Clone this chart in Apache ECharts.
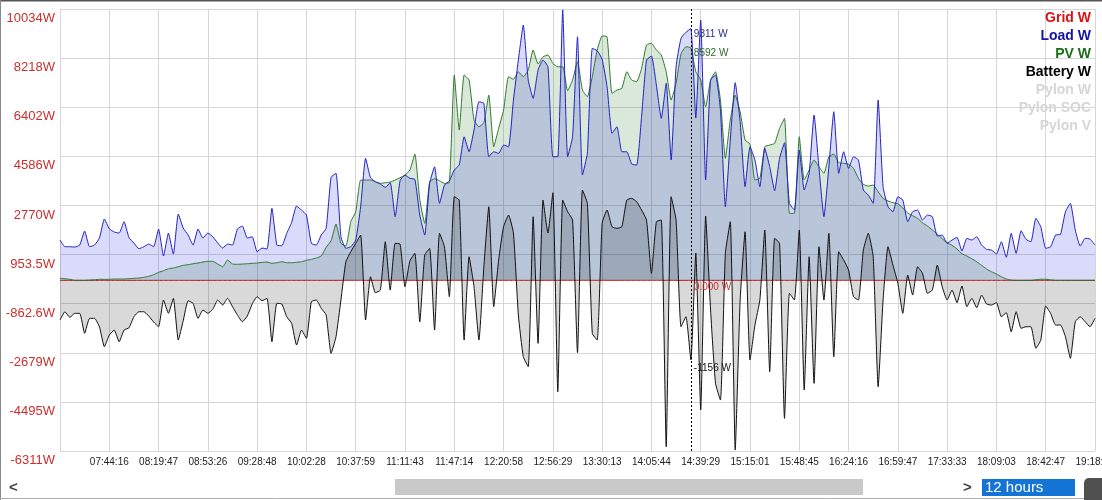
<!DOCTYPE html>
<html>
<head>
<meta charset="utf-8">
<script src="https://cdn.jsdelivr.net/npm/echarts@6.0.0/dist/echarts.min.js"></script>
<style>html,body{margin:0;padding:0;background:#fff;overflow:hidden}#chart{width:1102px;height:500px}</style>
</head>
<body>
<div id="chart"></div>
<script>
// ---- data ----
const xTickLabels = ['07:44:16','08:19:47','08:53:26','09:28:48','10:02:28','10:37:59','11:11:43','11:47:14','12:20:58','12:56:29','13:30:13','14:05:44','14:39:29','15:15:01','15:48:45','16:24:16','16:59:47','17:33:33','18:09:03','18:42:47','19:18:18'];
const yTickLabels = ['-6311W','-4495W','-2679W','-862.6W','953.5W','2770W','4586W','6402W','8218W','10034W'];
const yMin = -6311;
const yMax = 10034;
const samplesPerTick = 10;

const gridW = [0,0,0,0,0,0,0,0,0,0,0,0,0,0,0,0,0,0,0,0,0,0,0,0,0,0,0,0,0,0,0,0,0,0,0,0,0,0,0,0,0,0,0,0,0,0,0,0,0,0,0,0,0,0,0,0,0,0,0,0,0,0,0,0,0,0,0,0,0,0,0,0,0,0,0,0,0,0,0,0,0,0,0,0,0,0,0,0,0,0,0,0,0,0,0,0,0,0,0,0,0,0,0,0,0,0,0,0,0,0,0,0,0,0,0,0,0,0,0,0,0,0,0,0,0,0,0,0,0,0,0,0,0,0,0,0,0,0,0,0,0,0,0,0,0,0,0,0,0,0,0,0,0,0,0,0,0,0,0,0,0,0,0,0,0,0,0,0,0,0,0,0,0,0,0,0,0,0,0,0,0,0,0,0,0,0,0,0,0,0,0,0,0,0,0,0,0,0,0,0,0,0,0,0,0,0,0,0,0,0,0];

const loadW = [
1490,1243,1243,1231,1305,1823,1243,1305,1564,2267,
1908,1786,1749,2167,1575,1379,1169,1243,1342,1243,
1897,899,1749,973,2452,1934,1675,1305,1897,1564,
1749,1612,1379,1194,1342,1305,1897,2008,1564,1612,
1058,1194,1157,2663,1305,1280,1738,2145,2748,2600,
2415,1368,1305,1675,1923,3809,3957,1612,1183,1243,
1490,2722,4512,3794,3646,3561,3439,3609,2352,3683,
3894,3772,3735,2415,1675,3587,4201,2847,3524,3683,
4079,4264,5310,4756,5558,6605,6545,4571,4756,4696,
5003,4940,6667,8147,9441,7407,6730,7777,8147,7899,
4571,4571,10000,4571,5310,9008,3894,4696,8579,8491,
8173,7159,5436,5680,4756,4756,4301,4264,6050,8147,
8295,7222,5991,7285,4449,7899,8949,9171,9311,6002,
9626,3709,7407,7592,6298,2722,5188,7307,5865,3461,
4940,4449,3461,4881,4201,3313,4512,5088,2847,2600,
4818,3339,3957,6113,4142,2352,4201,6235,3957,4756,
4142,4571,4449,3339,3154,2847,6667,3461,2722,2537,
3092,2970,2167,2537,2600,2230,2415,2352,1638,1675,
1368,1490,1590,1084,1553,1490,1612,1305,1146,1120,
973,1427,851,1738,998,1834,1516,1427,2293,1982,
1183,1243,1675,1701,2537,2847,1860,1268,1553,1527,
1305];

const pvW = [
74,59,37,0,0,0,11,22,37,37,
37,48,48,48,59,74,85,111,148,207,
296,355,429,455,503,555,577,614,640,677,
703,703,603,503,751,603,592,603,614,629,
640,666,677,629,651,688,651,651,666,688,
740,777,825,899,1220,1464,2082,1368,1268,2167,
2537,3709,3709,3709,3646,3587,3609,3635,3709,3794,
3894,4079,4671,2970,2108,3646,3757,3683,3587,3609,
7592,5558,7592,7407,5928,5680,5828,6852,4940,5621,
6298,7529,7433,7714,7529,7777,8517,7999,8269,8332,
8025,7899,7899,7011,7407,8084,7037,6790,7529,8517,
9034,9008,6915,7037,7100,7714,7407,7344,7840,8701,
8764,8517,8332,7714,6667,7285,8369,8638,8592,7714,
7407,6420,7407,7714,6667,4512,5928,6852,6235,5188,
5040,3709,3772,4940,5003,5066,5621,5991,2478,2478,
5310,3709,4079,4449,4201,3957,4571,4671,4349,4327,
4301,4142,3772,3550,3487,3524,3276,3032,2933,2870,
2833,2674,2489,2389,2293,2130,2008,1860,1712,1538,
1390,1294,1157,984,899,799,688,555,418,318,
233,133,48,11,0,0,0,0,20,40,
40,20,0,0,0,0,0,0,0,0,
0];

const batteryW = [
-1468,-1161,-1368,-1220,-1220,-1960,-1405,-1405,-1716,-2455,
-2023,-1838,-2271,-1838,-1753,-1346,-1161,-1161,-1320,-1542,
-1716,-729,-1220,-666,-2208,-1494,-754,-851,-1405,-1098,
-1220,-1072,-729,-913,-666,-976,-1283,-1531,-1320,-876,
-606,-754,-666,-2271,-851,-876,-1346,-1590,-2393,-1838,
-2145,-791,-729,-1035,-1283,-2700,-2086,-729,688,1058,
1368,1675,-1468,133,-459,-359,1427,-359,1368,1342,
-237,725,998,-1531,936,1183,-1838,1738,1243,-606,
3092,2970,-2208,873,-237,-2208,503,2722,-976,751,
1982,2415,1749,-1283,-2825,-3195,2352,-2330,2970,1749,
3239,-4120,2970,2537,2230,-2677,3339,2847,-1960,-2208,
2108,2600,1982,1923,1982,2970,3032,2907,2600,2230,
259,2167,2230,-6153,3092,2230,-1716,-1346,-2947,1010,
-4796,2378,-1098,-3809,-4427,998,2167,-6276,-729,1797,
-2947,-1653,-729,1860,-3380,1553,1368,-5103,-481,-729,
1860,-4057,873,-3809,1243,-729,1738,-2825,1058,751,
381,-606,-729,1120,1738,873,-3935,-729,1243,566,
-111,-1220,196,-544,503,259,-481,-359,566,-237,
-729,-359,-828,-211,-976,-666,-1013,-544,-876,-913,
-828,-1346,-1198,-1901,-1161,-1775,-1716,-1716,-2515,-2208,
-950,-1220,-1653,-1653,-2086,-2884,-1531,-1346,-1531,-1716,
-1405];

const cursorIndex = 128;
const readoutText = { 'Grid W': '0.000 W', 'Load W': '9311 W', 'PV W': '8592 W', 'Battery W': '-1156 W' };
const legendNames = ['Grid W','Load W','PV W','Battery W','Pylon W','Pylon SOC','Pylon V'];
const legendColors = ['#dd1111','#1414a8','#1a6e1a','#000000','#d6d6d6','#d6d6d6','#d6d6d6'];
const hiddenNames = ['Pylon W','Pylon SOC','Pylon V'];

// ---- chart ----
const FONT = 'Arial, "Liberation Sans", sans-serif';
const categories = loadW.map((_, i) => String(i));
const chart = echarts.init(document.getElementById('chart'), null, { renderer: 'canvas' });

function readoutPoint(name, data, color, dy) {
  return {
    symbol: 'circle', symbolSize: 0, silent: true,
    label: { show: true, position: 'inside', align: 'left', verticalAlign: 'middle',
      offset: [3, dy], color: color, fontSize: 10, fontFamily: FONT,
      formatter: () => readoutText[name] },
    data: [{ coord: [String(cursorIndex), data[cursorIndex]] }]
  };
}

function lineSeries(name, data, lineColor, areaColor, readColor, dy, extra) {
  const s = {
    name: name, type: 'line', data: data, xAxisIndex: 0, yAxisIndex: 0,
    symbol: 'none', showSymbol: false, smooth: 0.15, animation: false,
    lineStyle: { color: lineColor, width: 1 }, itemStyle: { color: lineColor },
    emphasis: { disabled: true },
    markPoint: readoutPoint(name, data, readColor, dy)
  };
  if (areaColor) s.areaStyle = { color: areaColor, opacity: 1 };
  return Object.assign(s, extra || {});
}

const series = [
  lineSeries('Grid W', gridW, '#cc1111', null, '#c83030', 7, { z: 3 }),
  lineSeries('PV W', pvW, '#2e7a2e', 'rgba(0,100,0,0.15)', '#2a6a2a', 5),
  lineSeries('Load W', loadW, '#2222c4', 'rgba(0,0,220,0.145)', '#2a2a8a', 6),
  lineSeries('Battery W', batteryW, '#111111', 'rgba(0,0,0,0.15)', '#111111', 8, {
    z: 4,
    markLine: { silent: true, symbol: 'none', animation: false,
      label: { show: false },
      lineStyle: { color: '#000', type: [2, 2], width: 1 },
      data: [{ xAxis: String(cursorIndex) }] }
  })
];
hiddenNames.forEach(n => series.push({ name: n, type: 'line', data: [], symbol: 'none',
  lineStyle: { color: '#d6d6d6' }, itemStyle: { color: '#d6d6d6' } }));

const legends = legendNames.map((n, i) => ({
  data: [n], orient: 'vertical', right: 11, top: 11 + 18 * i, padding: 0,
  itemWidth: 0, itemHeight: 0, itemGap: 0, icon: 'rect',
  inactiveColor: '#d6d6d6',
  selected: hiddenNames.indexOf(n) >= 0 ? { [n]: false } : { [n]: true },
  textStyle: { color: legendColors[i], fontSize: 14, fontWeight: 'bold', fontFamily: FONT }
}));

const option = {
  backgroundColor: '#ffffff',
  animation: false,
  grid: { left: 60, right: 7, top: 9, bottom: 49, containLabel: false, outerBoundsMode: 'none' },
  legend: legends,
  xAxis: [{
    type: 'category', data: categories, boundaryGap: false,
    axisLine: { show: false }, axisTick: { show: false },
    axisLabel: {
      interval: (i) => i % samplesPerTick === 0 && i > 0,
      formatter: (v) => xTickLabels[Number(v) / samplesPerTick - 1] || '',
      color: '#222', fontSize: 10, fontFamily: FONT, margin: 6,
      showMaxLabel: true, hideOverlap: false
    },
    splitLine: { show: true, interval: (i) => i % samplesPerTick === 0,
      lineStyle: { color: '#d6d6d6', width: 1 } }
  }],
  yAxis: [{
    type: 'value', min: yMin, max: yMax, show: false,
    splitLine: { show: false }
  }, {
    type: 'value', min: 0, max: yTickLabels.length - 1, interval: 1, position: 'left',
    axisLine: { show: false }, axisTick: { show: false },
    axisLabel: { formatter: (v) => yTickLabels[Math.round(v)], verticalAlign: 'top',
      align: 'right', margin: 5, padding: [3, 0, 0, 0],
      color: '#cc2e2e', fontSize: 13, fontFamily: FONT },
    splitLine: { show: true, lineStyle: { color: '#d6d6d6', width: 1 } }
  }],
  series: series,
  graphic: [
    { type: 'line', shape: { x1: 0, y1: 0.5, x2: 1102, y2: 0.5 }, style: { stroke: '#555', lineWidth: 2 }, silent: true },
    { type: 'line', shape: { x1: 0.5, y1: 0, x2: 0.5, y2: 500 }, style: { stroke: '#888', lineWidth: 1 }, silent: true },
    { type: 'line', shape: { x1: 0, y1: 498.5, x2: 1102, y2: 498.5 }, style: { stroke: '#b0b0b0', lineWidth: 1 }, silent: true },
    { type: 'text', left: 9, top: 480, style: { text: '<', fill: '#444', font: 'bold 15px ' + FONT }, silent: true },
    { type: 'rect', shape: { x: 395, y: 479, width: 468, height: 16 }, style: { fill: '#c9c9c9' }, silent: true },
    { type: 'text', left: 963, top: 480, style: { text: '>', fill: '#444', font: 'bold 15px ' + FONT }, silent: true },
    { type: 'rect', shape: { x: 982, y: 479, width: 93, height: 17 }, style: { fill: '#1474d6' }, silent: true },
    { type: 'text', x: 985, y: 487.5, style: { text: '12 hours', fill: '#ffffff', font: '15px "Liberation Sans Narrow", "Arial Narrow", ' + FONT, verticalAlign: 'middle' }, silent: true },
    { type: 'rect', shape: { x: 1084, y: 478, width: 30, height: 30, r: 5 }, style: { fill: '#505050' }, silent: true }
  ]
};
chart.setOption(option);
</script>
</body>
</html>
